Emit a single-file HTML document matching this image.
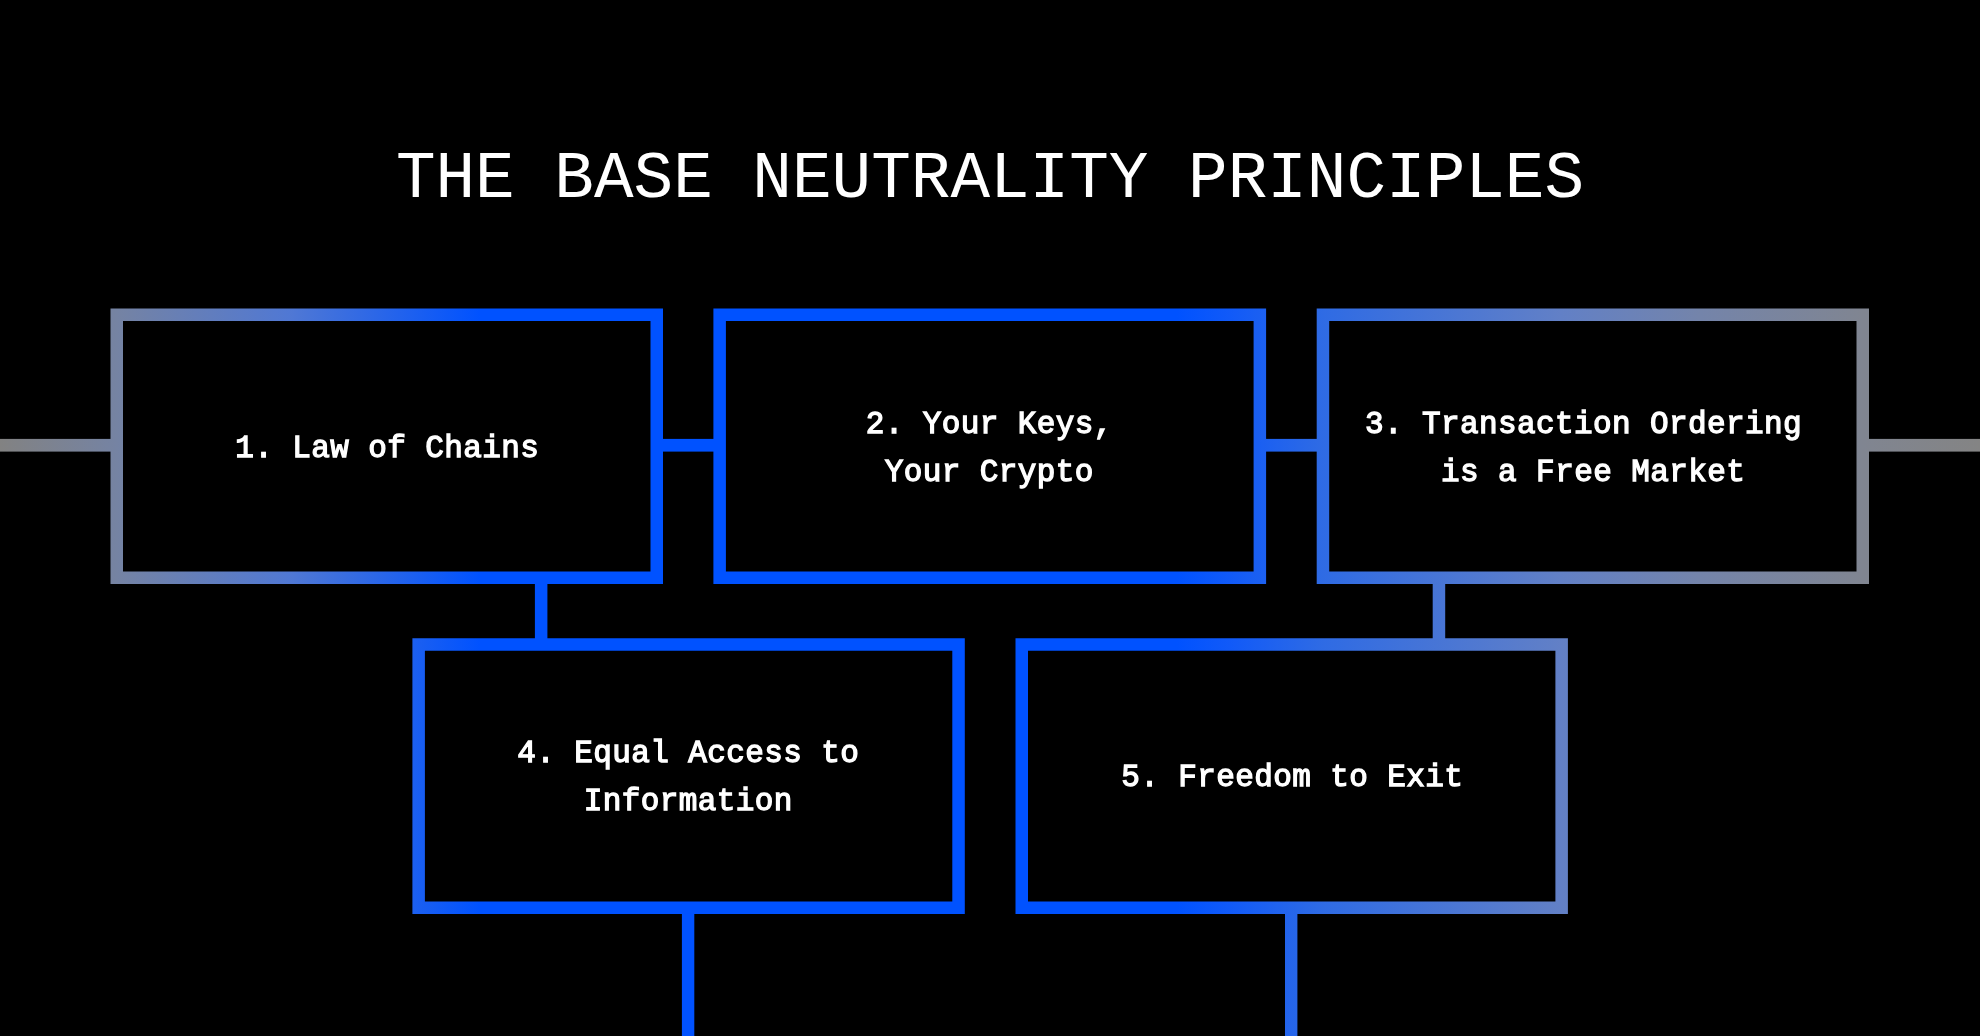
<!DOCTYPE html>
<html>
<head>
<meta charset="utf-8">
<style>
html,body{margin:0;padding:0;background:#000;}
body{width:1980px;height:1036px;overflow:hidden;position:relative;}
svg{position:absolute;left:0;top:0;}
.title{position:absolute;left:0;top:0;width:1980px;text-align:center;color:#fff;
  font-family:"Liberation Mono",monospace;font-size:66px;line-height:1;white-space:pre;will-change:transform;}
.box{position:absolute;display:flex;align-items:center;justify-content:center;text-align:center;
  color:#fff;font-family:"Liberation Mono",monospace;font-weight:normal;-webkit-text-stroke:1.3px #fff;font-size:31px;letter-spacing:0.4px;will-change:transform;line-height:47.7px;white-space:pre;box-sizing:border-box;padding-top:4px;}
</style>
</head>
<body>
<svg width="1980" height="1036" viewBox="0 0 1980 1036">
<defs>
<linearGradient id="g" gradientUnits="userSpaceOnUse" x1="0" y1="0" x2="1980" y2="0">
<stop offset="0.0000" stop-color="rgb(130,130,130)"/>
<stop offset="0.0591" stop-color="rgb(117,131,163)"/>
<stop offset="0.1465" stop-color="rgb(80,120,212)"/>
<stop offset="0.1919" stop-color="rgb(42,102,232)"/>
<stop offset="0.2424" stop-color="rgb(0,82,255)"/>
<stop offset="0.5944" stop-color="rgb(0,82,255)"/>
<stop offset="0.6212" stop-color="rgb(17,90,248)"/>
<stop offset="0.6682" stop-color="rgb(47,107,228)"/>
<stop offset="0.7884" stop-color="rgb(98,128,198)"/>
<stop offset="0.8586" stop-color="rgb(116,132,170)"/>
<stop offset="0.9409" stop-color="rgb(128,133,145)"/>
<stop offset="1.0000" stop-color="rgb(132,132,132)"/>
</linearGradient>
</defs>
<g fill="url(#g)" fill-rule="evenodd">
<!-- row 1 boxes -->
<path d="M110.5 308.5H663V583.9H110.5Z M123 321V571.4H650.5V321Z"/>
<path d="M713.4 308.5H1266.1V583.9H713.4Z M725.9 321V571.4H1253.6V321Z"/>
<path d="M1316.7 308.5H1869V583.9H1316.7Z M1329.2 321V571.4H1856.5V321Z"/>
<!-- row 2 boxes -->
<path d="M412.4 638.3H964.8V913.9H412.4Z M424.9 650.8V901.4H952.3V650.8Z"/>
<path d="M1015.5 638.3H1567.9V913.9H1015.5Z M1028 650.8V901.4H1555.4V650.8Z"/>
<!-- horizontal connectors -->
<rect x="0" y="438.9" width="116.5" height="12.7"/>
<rect x="657" y="438.9" width="62.4" height="12.7"/>
<rect x="1260.1" y="438.9" width="62.6" height="12.7"/>
<rect x="1863" y="438.9" width="117" height="12.7"/>
<!-- vertical connectors -->
<rect x="534.9" y="577.9" width="12.5" height="66.4"/>
<rect x="1432.7" y="577.9" width="12.5" height="66.4"/>
<rect x="681.9" y="907.9" width="12.4" height="128.1"/>
<rect x="1285" y="907.9" width="12.4" height="128.1"/>
</g>
</svg>
<div class="title" style="top:147px;">THE BASE NEUTRALITY PRINCIPLES</div>
<div class="box" style="left:110.5px;top:308.5px;width:552.5px;height:275.4px;">1. Law of Chains</div>
<div class="box" style="left:713.4px;top:308.5px;width:552.7px;height:275.4px;">2. Your Keys,
Your Crypto</div>
<div class="box" style="left:1316.7px;top:308.5px;width:552.3px;height:275.4px;"><span><span style="position:relative;left:-9.7px;">3. Transaction Ordering</span>
is a Free Market</span></div>
<div class="box" style="left:412.4px;top:638.3px;width:552.4px;height:275.6px;">4. Equal Access to
Information</div>
<div class="box" style="left:1015.5px;top:638.3px;width:552.4px;height:275.6px;">5. Freedom to Exit</div>
</body>
</html>
